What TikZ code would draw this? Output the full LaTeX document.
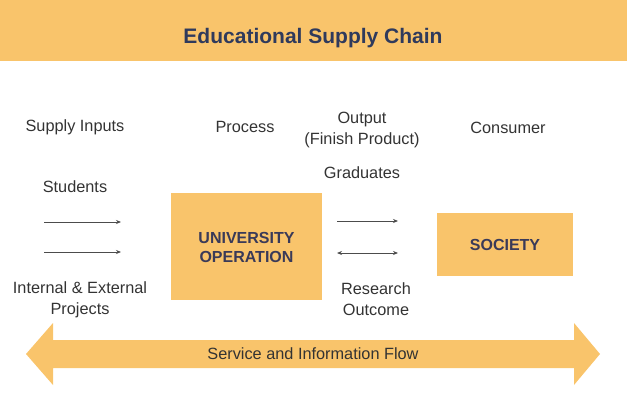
\documentclass[tikz,border=0pt]{standalone}
\usepackage{fontspec}
\setmainfont{Liberation Sans}
\usetikzlibrary{arrows.meta}
\definecolor{chainorange}{HTML}{F9C46B}
\definecolor{chaintitle}{HTML}{2F3A5C}
\definecolor{chainbox}{HTML}{3A3A58}
\definecolor{chaintext}{HTML}{333333}
\newcommand{\bx}        {\bfseries}

\begin{document}
\begin{tikzpicture}[x=1pt,y=-1pt,
   lbl/.style={text=chaintext,font=\fontsize{16.3}{21.5}\selectfont,align=center,inner sep=0pt},
   blk/.style={text=chainbox,font=\fontsize{16}{19}\selectfont\bx,align=center},
   flow/.style={-{Stealth[length=5pt,width=4pt]},line width=0.8pt,draw=black!70}]
   \useasboundingbox (0,0) rectangle (627,420);
   \fill[chainorange] (0,0) rectangle (627,61);
   \node[text=chaintitle,font=\fontsize{21}{24}\selectfont\bx] (title) at (313,38) {Educational Supply Chain};
   % column heads
   \node[lbl] (inputs)   at (75,127)  {Supply Inputs};
   \node[lbl] (process)  at (245,127) {Process};
   \node[lbl] (output)   at (362,130) {Output\\(Finish Product)};
   \node[lbl] (consumer) at (508,128) {Consumer};
   % boxes
   \fill[chainorange] (171,193) rectangle (322,300);
   \node[blk] (univ) at (246.5,247) {UNIVERSITY\\OPERATION};
   \fill[chainorange] (437,213) rectangle (573,276);
   \node[blk] (society) at (505,245) {SOCIETY};
   % inputs and outputs
   \node[lbl] (students)  at (75,187)  {Students};
   \node[lbl] (projects)  at (80,300)  {Internal \& External\\Projects};
   \node[lbl] (graduates) at (362,173) {Graduates};
   \node[lbl] (research)  at (376,299) {Research\\Outcome};
   \coordinate (s1) at (44,222);  \coordinate (s2) at (121,222);
   \coordinate (p1) at (44,252);  \coordinate (p2) at (121,252);
   \coordinate (g1) at (337,221); \coordinate (g2) at (398,221);
   \coordinate (r1) at (337,253); \coordinate (r2) at (398,253);
   \draw[flow] (s1) -- (s2);
   \draw[flow] (p1) -- (p2);
   \draw[flow] (g1) -- (g2);
   \draw[flow,{Stealth[length=5pt,width=4pt]}-{Stealth[length=5pt,width=4pt]}] (r1) -- (r2);
   % service and information flow
   \fill[chainorange] (26,354) -- (53,323) -- (53,340) -- (574,340) -- (574,323)
    -- (600,354) -- (574,385) -- (574,368) -- (53,368) -- (53,385) -- cycle;
   \node[lbl] (service) at (313,354) {Service and Information Flow};
\end{tikzpicture}
\end{document}
